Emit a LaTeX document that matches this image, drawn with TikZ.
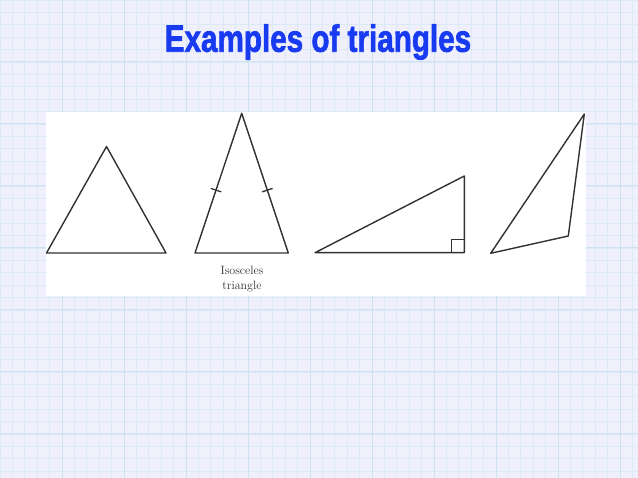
\documentclass[tikz,border=0pt]{standalone}
\usepackage{fontspec}
\usetikzlibrary{calc}
\newfontfamily\titlefont[BoldFeatures={FakeBold=2}]{Liberation Sans}
\definecolor{paper}{RGB}{239,240,252}
\definecolor{gridblue}{RGB}{220,233,247}
\definecolor{gridstrong}{RGB}{206,226,243}
\definecolor{titleblue}{RGB}{24,58,240}
\definecolor{inkgray}{RGB}{50,50,50}
\tikzset{
  gridline/.style={draw=gridblue, line width=0.8pt},
  gridmajor/.style={draw=gridstrong, line width=1pt},
  tri/.style={draw=inkgray, line width=1.4pt, line join=round},
  tick/.style={draw=inkgray, line width=1.3pt},
}
\begin{document}
\begin{tikzpicture}[x=1pt,y=-1pt]
    \useasboundingbox (0,0) rectangle (638,478);
    % Sfondo a quadretti
    \fill[paper] (0,0) rectangle (638,478);
    \foreach \x in {0,12.4,...,638} \draw[gridline] (\x,0) -- (\x,478);
    \foreach \y in {0,12.4,...,478} \draw[gridline] (0,\y) -- (638,\y);
    \foreach \x in {62,124,...,638} \draw[gridmajor] (\x,0) -- (\x,478);
    \foreach \y in {62,124,...,478} \draw[gridmajor] (0,\y) -- (638,\y);
    % Titolo
    \node[font=\titlefont\bfseries\fontsize{38}{42}\selectfont, text=titleblue, xscale=0.78] (title) at (318,42) {Examples of triangles};
    % Riquadro bianco
    \fill[white] (46,112) rectangle (586,296);
    % Equilatero
    \coordinate (eL) at (46.5,253);
    \coordinate (eT) at (106.5,146.5);
    \coordinate (eR) at (166,253);
    \draw[tri] (eL) -- (eT) -- (eR) -- cycle;
    % Isoscele
    \coordinate (iL) at (195,253);
    \coordinate (iT) at (241.7,113.3);
    \coordinate (iR) at (288.3,253);
    \draw[tri] (iL) -- (iT) -- (iR) -- cycle;
    % Segnetti sui lati uguali
    \coordinate (mL) at ($(iL)!0.45!(iT)$);
    \coordinate (mR) at ($(iR)!0.45!(iT)$);
    \draw[tick] ($(mL)!5.5pt!90:(iT)$) -- ($(mL)!5.5pt!-90:(iT)$);
    \draw[tick] ($(mR)!5.5pt!90:(iT)$) -- ($(mR)!5.5pt!-90:(iT)$);
    \node[font=\fontsize{12}{15}\selectfont, text=inkgray, align=center] (isolabel) at (242,279.5) {Isosceles\\triangle};
    % Rettangolo
    \coordinate (rL) at (315,252.7);
    \coordinate (rB) at (464.3,252.7);
    \coordinate (rT) at (464.3,176);
    \draw[tri] (rL) -- (rB) -- (rT) -- cycle;
    % Quadratino dell'angolo retto
    \draw[draw=inkgray, line width=0.6pt] ($(rB)+(-13.5,0)$) |- ($(rB)+(0,-13.5)$);
    % Ottusangolo
    \coordinate (oL) at (490.7,253.3);
    \coordinate (oR) at (568.3,236);
    \coordinate (oT) at (584.3,114);
    \draw[tri] (oL) -- (oR) -- (oT) -- cycle;
\end{tikzpicture}
\end{document}
